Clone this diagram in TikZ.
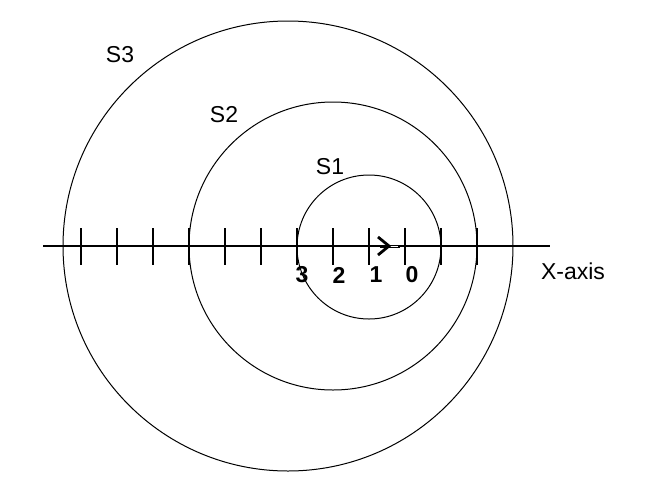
\documentclass[tikz,border=0pt]{standalone}
\usepackage{fontspec}
\setmainfont{Liberation Sans}
\usepackage{xcolor}
\usepackage{tikz}
\usetikzlibrary{arrows.meta}

\begin{document}
\begin{tikzpicture}[x=1pt,y=1pt]
			\tikzstyle{every node}+=[inner sep=0pt, font=\fontsize{23}{26}\selectfont]
			\tikzstyle{tick}=[black, line width=1.4pt]
			\tikzstyle{num}=[font=\fontsize{23}{26}\selectfont\bfseries]
			\useasboundingbox (0,0) rectangle (668,-498);
			\draw [black, line width=1pt] (369,-247) circle (72);
			\draw [black, line width=1pt] (333,-246) circle (144);
			\draw [black, line width=1pt] (288,-246) circle (225);
			\coordinate (axL) at (43,-246);
			\coordinate (axR) at (550,-246);
			\draw [black, line width=1.2pt] (axL) -- (axR);
			\draw [tick] (81,-228) -- (81,-265);
			\draw [tick] (117,-228) -- (117,-265);
			\draw [tick] (153,-228) -- (153,-265);
			\draw [tick] (189,-228) -- (189,-265);
			\draw [tick] (225,-228) -- (225,-265);
			\draw [tick] (261,-228) -- (261,-265);
			\draw [tick] (297,-228) -- (297,-265);
			\draw [tick] (333,-228) -- (333,-265);
			\draw [tick] (369,-228) -- (369,-265);
			\draw [tick] (405,-228) -- (405,-265);
			\draw [tick] (441,-228) -- (441,-265);
			\draw [tick] (477,-228) -- (477,-265);
			\coordinate (arrA) at (380,-246);
			\coordinate (arrB) at (400,-246);
			\draw [black, line width=3pt] (arrA) -- (arrB);
			\draw [white, line width=1pt] (389,-246) -- (398,-246);
			\draw [black, line width=2.8pt, line join=miter] (378,-237) -- (389,-246) -- (378,-255);
			\node (lblS3) at (120,-55) {S3};
			\node (lblS2) at (224,-115) {S2};
			\node (lblS1) at (330,-167) {S1};
			\node (lblX) at (573,-271) {X-axis};
			\node [num] (n3) at (302,-275) {3};
			\node [num] (n2) at (339,-275) {2};
			\node [num] (n1) at (376,-275) {1};
			\node [num] (n0) at (412,-275) {0};
		\end{tikzpicture}
\end{document}
